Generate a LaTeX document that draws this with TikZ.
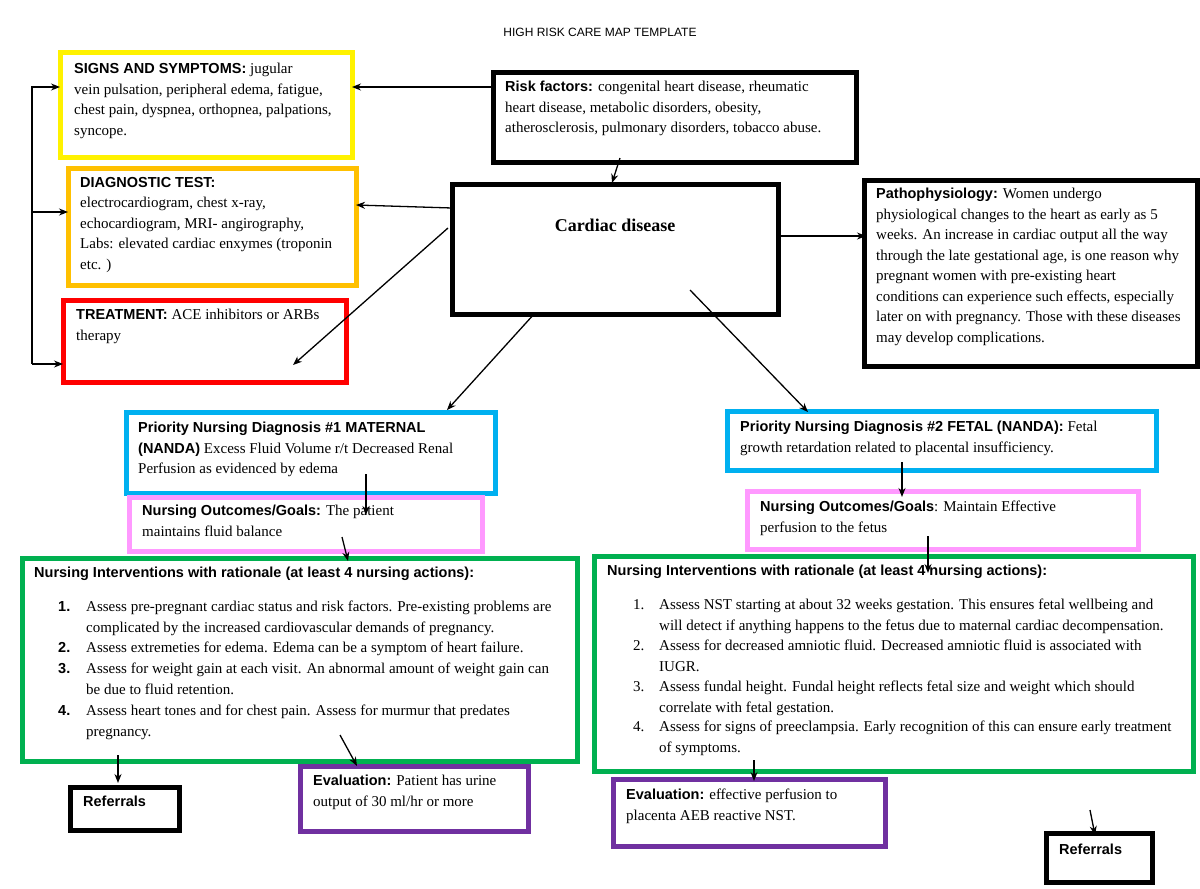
\documentclass[tikz,border=0pt]{standalone}
\usepackage{fontspec}
\setmainfont{Liberation Serif}
\newfontfamily\lsans{Liberation Sans}
\usetikzlibrary{arrows.meta}
\hyphenpenalty=10000
\exhyphenpenalty=10000
\definecolor{cyel}{HTML}{FFF200}
\definecolor{cora}{HTML}{FFC000}
\definecolor{cred}{HTML}{FF0000}
\definecolor{cblu}{HTML}{00B0F0}
\definecolor{cpnk}{HTML}{FF99FF}
\definecolor{cgrn}{HTML}{00B050}
\definecolor{cpur}{HTML}{7030A0}
\tikzset{
 bx/.style={line width=5pt},
 tx/.style={anchor=north west,align=left,inner sep=0pt,font=\fontsize{15}{20.5}\selectfont},
 ar/.style={-{Stealth[length=9pt,width=7pt]},line width=1.3pt},
 ln/.style={line width=1.3pt}
}
\newcommand{\hd}[1]{{\lsans\bfseries\fontsize{14.5}{20.5}\selectfont #1}}
\begin{document}
\begin{tikzpicture}[x=1pt,y=-1pt]
\useasboundingbox (0,0) rectangle (1200,889);
\node[font=\lsans\fontsize{12}{14}\selectfont] (title) at (600,32) {HIGH RISK CARE MAP TEMPLATE};
% boxes
\draw[bx,cyel] (60,52) rectangle (352,157);
\draw[bx] (493,72) rectangle (856,162);
\draw[bx,cora] (68,168) rectangle (356,285);
\draw[bx] (452,184) rectangle (778,314);
\draw[bx] (864,180) rectangle (1197,366);
\draw[bx,cred] (63,300) rectangle (346,382);
\draw[bx,cblu] (126,412) rectangle (495,493);
\draw[bx,cpnk] (129,497) rectangle (482,551);
\draw[bx,cgrn] (22,558) rectangle (577,761);
\draw[bx] (70,787) rectangle (179,830);
\draw[bx,cpur] (300,766) rectangle (528,831);
\draw[bx,cblu] (727,411) rectangle (1156,470);
\draw[bx,cpnk] (747,491) rectangle (1138,549);
\draw[bx,cgrn] (594,556) rectangle (1193,771);
\draw[bx,cpur] (613,779) rectangle (885,846);
\draw[bx] (1046,833) rectangle (1152,882);
% texts
\node[tx] (signs) at (74,63) {\hd{SIGNS AND SYMPTOMS:} jugular\\ vein pulsation, peripheral edema, fatigue,\\ chest pain, dyspnea, orthopnea, palpations,\\ syncope.};
\node[tx] (risk) at (505,81) {\hd{Risk factors:} congenital heart disease, rheumatic\\ heart disease, metabolic disorders, obesity,\\ atherosclerosis, pulmonary disorders, tobacco abuse.};
\node[tx] (diag) at (80,177) {\hd{DIAGNOSTIC TEST:}\\ electrocardiogram, chest x-ray,\\ echocardiogram, MRI- angirography,\\ Labs: elevated cardiac enxymes (troponin\\ etc. )};
\node[font=\bfseries\fontsize{18}{20}\selectfont] (card) at (615,225) {Cardiac disease};
\node[tx] (patho) at (876,188) {\hd{Pathophysiology:} Women undergo\\ physiological changes to the heart as early as 5\\ weeks. An increase in cardiac output all the way\\ through the late gestational age, is one reason why\\ pregnant women with pre-existing heart\\ conditions can experience such effects, especially\\ later on with pregnancy. Those with these diseases\\ may develop complications.};
\node[tx] (treat) at (76,309) {\hd{TREATMENT:} ACE inhibitors or ARBs\\ therapy};
\node[tx] (pnd1) at (138,422) {\hd{Priority Nursing Diagnosis \#1 MATERNAL}\\ \hd{(NANDA)} Excess Fluid Volume r/t Decreased Renal\\ Perfusion as evidenced by edema};
\node[tx] (goal1) at (142,505) {\hd{Nursing Outcomes/Goals:} The patient\\ maintains fluid balance};
\node[tx] (int1) at (34,567) {\hd{Nursing Interventions with rationale (at least 4 nursing actions):}};
\node[tx] (ref1) at (83,796) {\hd{Referrals}};
\node[tx] (ev1) at (313,775) {\hd{Evaluation:} Patient has urine\\ output of 30 ml/hr or more};
\node[tx] (pnd2) at (740,421) {\hd{Priority Nursing Diagnosis \#2 FETAL (NANDA):} Fetal\\ growth retardation related to placental insufficiency.};
\node[tx] (goal2) at (760,501) {\hd{Nursing Outcomes/Goals}: Maintain Effective\\ perfusion to the fetus};
\node[tx] (int2) at (607,565) {\hd{Nursing Interventions with rationale (at least 4 nursing actions):}};
\node[tx] (ev2) at (626,789) {\hd{Evaluation:} effective perfusion to\\ placenta AEB reactive NST.};
\node[tx] (ref2) at (1059,844) {\hd{Referrals}};
% list 1
\foreach \n/\y/\t in {1/601/{Assess pre-pregnant cardiac status and risk factors. Pre-existing problems are\\ complicated by the increased cardiovascular demands of pregnancy.},2/642/{Assess extremeties for edema. Edema can be a symptom of heart failure.},3/663/{Assess for weight gain at each visit. An abnormal amount of weight gain can\\ be due to fluid retention.},4/705/{Assess heart tones and for chest pain. Assess for murmur that predates\\ pregnancy.}}{
 \node[tx] (l1n\n) at (58,\y) {\hd{\n.}};
 \node[tx] (l1t\n) at (86,\y) {\t};
}
\foreach \n/\y/\t in {1/599/{Assess NST starting at about 32 weeks gestation. This ensures fetal wellbeing and\\ will detect if anything happens to the fetus due to maternal cardiac decompensation.},2/640/{Assess for decreased amniotic fluid. Decreased amniotic fluid is associated with\\ IUGR.},3/681/{Assess fundal height. Fundal height reflects fetal size and weight which should\\ correlate with fetal gestation.},4/721/{Assess for signs of preeclampsia. Early recognition of this can ensure early treatment\\ of symptoms.}}{
 \node[tx] (l2n\n) at (633,\y) {\n.};
 \node[tx] (l2t\n) at (659,\y) {\t};
}
% connectors
\draw[ar] (493,87) -- (352,87);
\draw[ar] (620,158) -- (612,183);
\draw[ar] (452,208) -- (356,205);
\draw[ar] (448,228) -- (293,365);
\draw[ar] (535,313) -- (447,410);
\draw[ar] (690,290) -- (808,412);
\draw[ar] (778,236) -- (866,236);
\draw[ln] (58,87) -- (32,87) -- (32,364);
\draw[ar] (32,87) -- (60,87);
\draw[ar] (32,212) -- (68,212);
\draw[ar] (32,364) -- (63,364);
\draw[ar] (366,474) -- (366,515);
\draw[ar] (342,537) -- (348,561);
\draw[ar] (340,735) -- (357,766);
\draw[ar] (118,755) -- (118,783);
\draw[ar] (902,462) -- (902,497);
\draw[ar] (928,536) -- (928,573);
\draw[ar] (754,760) -- (754,781);
\draw[ar] (1090,810) -- (1095,835);
\end{tikzpicture}
\end{document}
